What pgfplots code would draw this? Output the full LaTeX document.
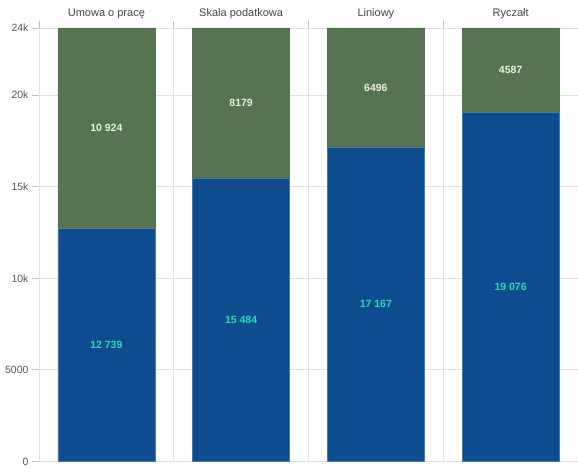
\documentclass[border=0pt]{standalone}
\usepackage{pgfplots}
\pgfplotsset{compat=1.18}
\usepackage{fontspec}
\setmainfont{Liberation Sans}

\definecolor{barGreen}{HTML}{587352}
\definecolor{barBlue}{HTML}{0F4C8F}
\definecolor{lblGreen}{HTML}{E6F0DE}
\definecolor{lblBlue}{HTML}{30D8B6}
\definecolor{gridGray}{HTML}{E2E2E2}
\definecolor{txtGray}{HTML}{555555}

\begin{document}
\begin{tikzpicture}
\begin{axis}[
  name=ax,
  scale only axis, width=539pt, height=433.5pt,
  ybar stacked, bar width=0.72,
  xmin=-0.5, xmax=3.5, ymin=0, ymax=23663,
  scaled y ticks=false,
  axis line style={draw=none},
  xtick={-0.5,0.5,1.5,2.5,3.5}, xticklabels={},
  xtick pos=upper, xticklabel pos=upper,
  extra x ticks={0,1,2,3},
  extra x tick labels={Umowa o pracę,Skala podatkowa,Liniowy,Ryczałt},
  extra x tick style={major tick length=0pt, grid=none,
    xticklabel style={yshift=6pt}},
  xticklabel style={font=\fontsize{11}{13}\selectfont, text=txtGray!80!black},
  ytick={0,5000,10000,15000,20000,23663},
  yticklabels={0,5000,10k,15k,20k,24k},
  ytick pos=left,
  yticklabel style={font=\fontsize{10.5}{12}\selectfont, text=txtGray},
  tick align=outside, major tick length=7pt,
  tick style={draw=gridGray!85!black, line width=0.8pt},
  grid=major, major grid style={draw=gridGray, line width=0.8pt},
  point meta=explicit,
  nodes near coords={\pgfmathprintnumber[assume math mode=true,1000 sep={\ },min exponent for 1000 sep=4]{\pgfplotspointmeta}},
  nodes near coords style={font=\bfseries\fontsize{10.5}{12}\selectfont, anchor=center},
]
\addplot[fill=barBlue, draw=barBlue!75!white, line width=0.6pt,
  every node near coord/.append style={text=lblBlue}]
  coordinates {(0,12739) [12739] (1,15484) [15484] (2,17167) [17167] (3,19076) [19076]};
\addplot[fill=barGreen, draw=barGreen, line width=0.6pt,
  every node near coord/.append style={text=lblGreen}]
  coordinates {(0,10924) [10924] (1,8179) [8179] (2,6496) [6496] (3,4587) [4587]};
\end{axis}
\pgfresetboundingbox
\path ([xshift=-39pt,yshift=-11.5pt]ax.south west) rectangle ([yshift=28pt]ax.north east);
\end{tikzpicture}
\end{document}
